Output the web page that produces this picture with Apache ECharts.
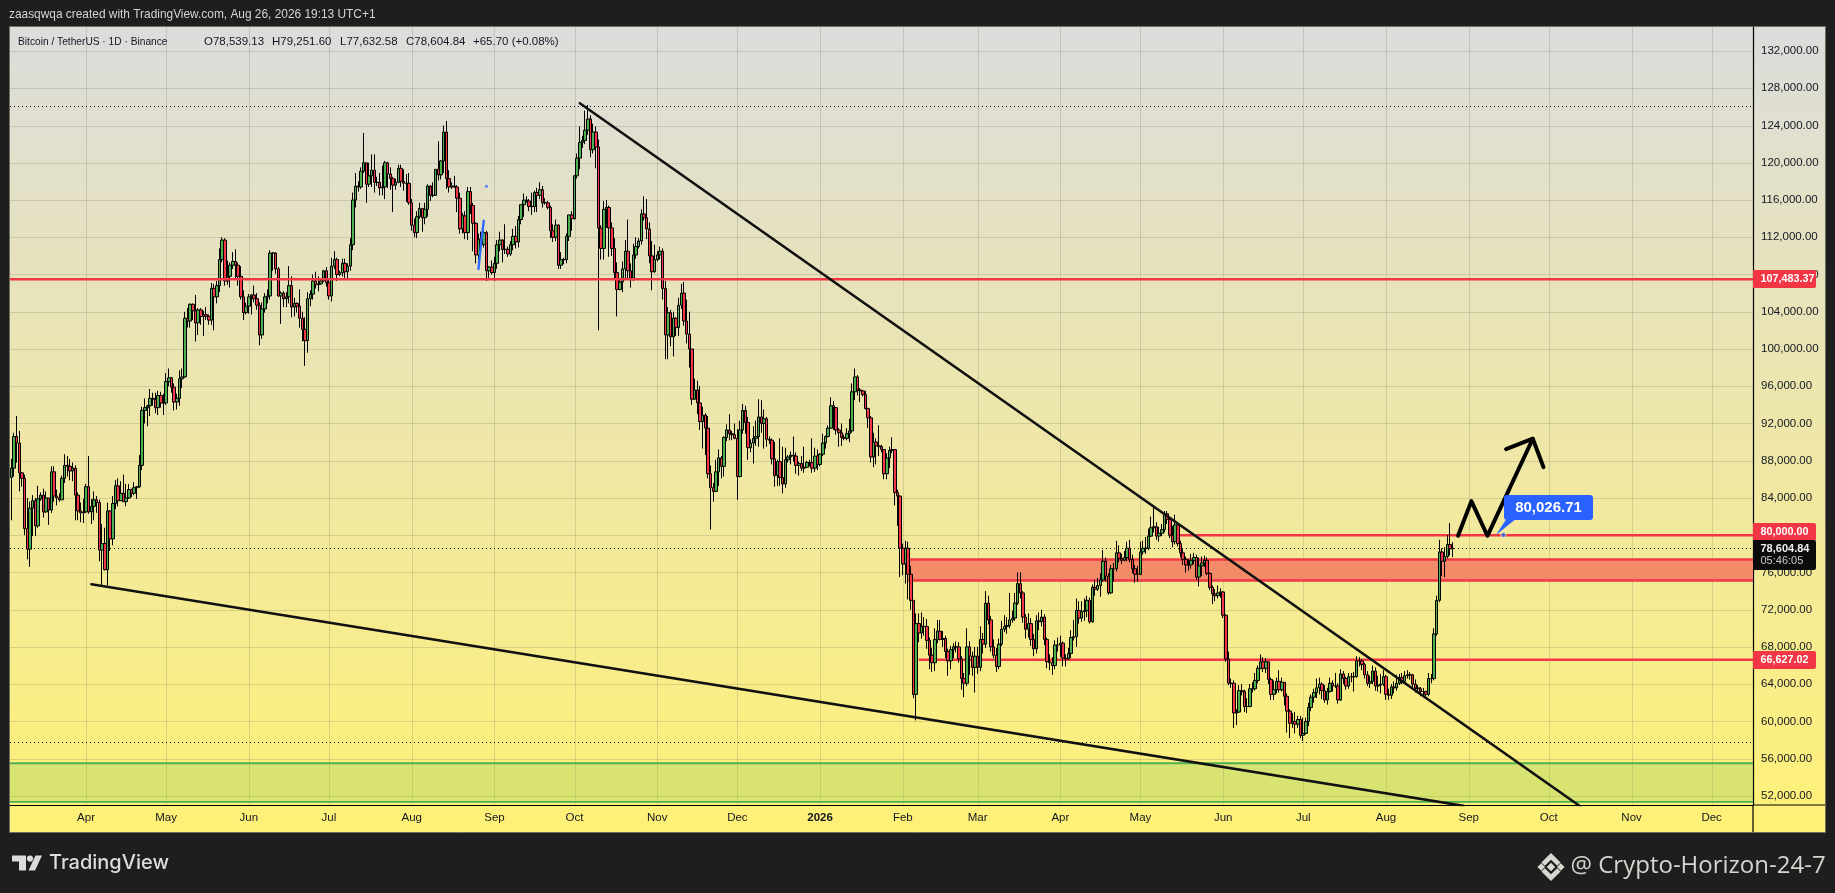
<!DOCTYPE html>
<html><head><meta charset="utf-8"><title>BTCUSDT</title>
<style>html,body{margin:0;padding:0;background:#1e1e1e}#c{width:1835px;height:893px}</style>
<script src="https://cdn.jsdelivr.net/npm/echarts@6/dist/echarts.min.js"></script></head>
<body><div id="c"></div>
<script>
// Daily candles: [close, high, low] in thousands of USD. Each open is the previous close.
const mar25=[[87.2,88.2,81.6],[90.6,91.0,86.3],[89.9,92.8,87.8],[86.7,91.2,84.7],[86.1,86.8,85.2],[80.7,86.5,80.0],[78.5,84.0,77.4],[82.9,83.6,76.6],[83.7,84.3,79.9],[81.0,84.0,79.9],[83.9,85.3,80.8],[84.3,84.6,83.7],[82.5,85.0,81.9],[84.0,84.7,82.4],[82.7,84.0,81.1],[86.8,87.4,82.4],[84.2,87.4,83.6],[84.0,84.9,83.2],[83.8,84.5,83.6],[86.1,86.4,83.8],[87.5,88.7,85.6],[87.4,88.5,86.3],[86.9,88.2,85.9],[87.2,87.8,85.8],[84.3,87.5,81.6],[82.6,84.6,81.6],[82.4,83.5,81.4],[82.5,83.9,81.3]];
const apr25=[[85.2,85.5,82.4],[82.5,88.5,82.3],[83.1,83.9,81.2],[83.8,84.7,81.6],[83.5,84.2,82.4],[78.4,83.8,77.2],[79.1,81.2,74.5],[76.3,80.8,76.2],[82.6,83.5,74.6],[79.6,82.7,78.3],[83.4,84.2,78.9],[85.3,85.9,82.8],[83.7,86.1,83.1],[84.5,85.8,83.7],[83.6,86.5,83.6],[84.0,85.5,83.1],[84.9,85.5,83.9],[84.5,85.0,84.1],[85.1,85.7,84.3],[85.2,85.3,83.9],[87.5,88.6,85.1],[93.4,93.8,87.0],[93.7,94.7,92.0],[93.9,94.0,91.7],[94.7,95.7,92.8],[94.6,95.3,93.9],[93.7,95.3,93.1],[95.0,95.5,92.9],[94.2,95.4,93.7],[94.2,95.2,92.9]];
const may25=[[96.5,97.4,94.0],[96.9,97.9,96.0],[95.9,97.0,95.3],[94.3,96.3,93.4],[94.7,95.2,93.5],[96.8,97.7,93.9],[97.0,97.9,95.8],[103.3,104.0,96.9],[103.0,104.4,102.3],[104.8,104.9,102.3],[104.1,104.9,103.1],[102.8,105.8,100.8],[104.2,104.4,101.5],[103.5,104.4,102.6],[103.7,104.1,101.4],[103.5,104.5,103.1],[103.1,103.7,102.6],[106.5,107.1,102.6],[105.6,107.0,102.0],[106.8,107.3,104.9],[109.6,110.8,106.1],[111.7,112.0,109.3],[107.3,111.9,106.8],[107.8,109.5,106.9],[109.0,109.3,106.6],[109.4,110.4,108.6],[109.0,110.7,107.6],[107.8,109.3,106.8],[105.6,108.9,105.3],[103.9,106.3,103.1],[104.6,105.0,103.7]];
const jun25=[[105.6,105.9,103.8],[105.8,105.9,103.7],[105.4,106.8,105.0],[104.7,106.0,104.2],[101.5,105.0,100.4],[104.3,105.0,101.1],[105.6,106.0,103.9],[105.7,106.4,104.9],[110.3,110.6,105.3],[110.3,110.4,108.4],[108.6,110.4,108.1],[105.7,108.8,105.6],[106.0,106.2,102.7],[105.4,106.2,104.5],[105.6,106.1,104.5],[106.8,108.9,104.9],[104.5,107.8,103.4],[104.9,105.5,103.5],[104.6,105.0,103.9],[103.3,106.4,102.3],[102.1,104.0,100.8],[100.9,103.4,98.2],[105.4,106.1,99.6],[105.9,106.3,104.6],[107.3,108.0,105.3],[106.9,108.3,106.5],[107.0,107.8,106.2],[107.3,107.6,106.9],[108.4,108.5,107.2],[107.1,108.8,106.7]];
const jul25=[[105.7,107.5,105.3],[108.9,109.8,105.1],[109.6,110.5,108.6],[108.0,109.8,107.3],[108.2,108.4,107.8],[109.2,109.7,107.8],[108.3,109.7,107.5],[108.9,109.2,107.5],[111.2,111.9,108.4],[116.0,116.8,110.6],[117.5,118.9,115.2],[117.4,118.0,116.9],[119.1,119.5,117.2],[120.0,123.2,118.9],[117.7,120.0,115.7],[118.6,120.0,117.4],[119.2,120.9,117.4],[117.9,120.9,116.8],[117.9,118.5,117.5],[117.3,118.9,116.5],[117.4,119.7,116.5],[120.0,120.2,116.1],[118.8,120.1,117.3],[118.3,119.5,117.1],[117.6,118.5,114.7],[117.9,118.3,117.1],[119.4,119.8,117.8],[118.0,119.8,117.4],[117.8,119.3,117.0],[117.8,118.8,115.8],[115.7,118.9,115.5]];
const aug25=[[113.3,116.1,112.7],[112.5,114.0,112.0],[114.2,114.8,111.9],[115.1,115.7,114.0],[114.1,115.1,112.6],[115.0,115.7,113.4],[117.5,117.7,114.2],[116.5,117.6,115.9],[116.5,117.9,116.3],[119.3,119.3,116.5],[118.7,122.3,118.1],[120.2,120.3,118.2],[123.3,124.0,118.9],[118.3,124.5,117.2],[117.4,119.2,116.8],[117.5,117.9,117.2],[117.4,118.6,117.3],[116.2,117.6,114.7],[112.9,116.8,112.4],[114.3,114.6,112.4],[112.5,114.8,111.8],[116.9,117.4,111.7],[115.4,117.4,114.5],[113.5,115.7,110.5],[110.1,113.6,109.2],[111.8,112.4,108.7],[111.2,112.6,110.3],[112.5,113.5,110.9],[108.4,112.7,107.3],[108.8,108.9,107.4],[108.2,109.5,108.0]];
const sep25=[[109.2,109.9,107.3],[111.2,111.7,108.6],[111.7,112.6,110.5],[110.7,111.8,109.3],[110.7,113.4,110.2],[110.2,111.0,109.9],[111.2,111.6,110.0],[112.1,112.9,110.6],[111.5,113.2,110.8],[113.9,114.3,110.9],[115.5,115.5,113.4],[116.0,116.7,114.2],[115.9,116.4,115.7],[115.3,116.1,114.8],[115.3,116.8,114.4],[116.8,117.0,114.7],[116.5,117.3,114.7],[117.1,117.9,116.1],[115.7,117.5,115.2],[115.7,116.2,115.5],[115.2,115.9,115.0],[112.7,115.4,111.9],[112.0,113.4,111.5],[113.3,113.9,111.6],[109.0,113.4,108.6],[109.6,110.4,108.6],[109.6,109.8,109.1],[112.1,112.4,109.2],[114.4,114.4,111.6],[114.0,114.8,112.7]];
const oct25=[[118.6,118.7,113.9],[120.5,121.0,118.3],[122.2,123.9,119.3],[122.4,122.9,121.6],[123.5,125.6,122.0],[124.7,126.2,123.0],[121.4,125.1,120.6],[123.3,124.2,121.0],[121.7,123.9,119.4],[113.0,122.5,102.0],[110.8,113.3,109.6],[115.0,115.9,109.6],[115.2,116.0,113.0],[113.0,115.4,109.9],[110.8,113.6,110.0],[108.2,111.9,107.4],[106.4,109.3,103.5],[107.2,107.6,106.3],[108.6,109.4,106.1],[110.5,111.7,107.4],[108.4,113.9,107.4],[107.6,109.2,106.6],[110.1,111.3,107.3],[111.0,112.0,109.7],[111.6,111.9,110.8],[114.5,115.0,111.2],[114.1,116.4,113.8],[112.9,116.1,111.8],[110.0,113.6,109.2],[108.3,111.6,106.3],[109.6,111.2,108.2]];
const nov25=[[110.1,110.5,109.4],[110.5,111.0,109.6],[106.5,110.8,105.3],[101.5,107.3,98.9],[103.9,104.5,98.9],[101.3,104.2,100.3],[103.3,104.0,99.2],[102.3,103.4,101.4],[104.7,105.5,101.4],[106.0,107.0,104.3],[103.0,107.2,102.5],[101.6,105.3,100.6],[100.0,104.0,98.0],[94.6,99.8,94.0],[95.6,96.8,94.6],[94.2,96.6,93.0],[92.2,96.0,91.3],[92.9,93.8,89.3],[91.5,93.1,88.6],[86.6,92.8,86.1],[85.1,87.5,80.6],[84.7,85.6,83.6],[86.8,88.1,84.7],[88.3,89.2,85.3],[87.4,88.5,86.1],[90.5,90.6,86.3],[91.3,91.9,90.1],[90.9,93.0,90.2],[90.8,91.2,90.2],[90.4,92.0,90.3]];
const dec25=[[86.3,91.4,83.8],[91.3,92.3,86.2],[93.4,94.1,90.9],[92.1,93.9,90.9],[89.4,92.7,88.1],[89.9,90.3,88.9],[90.4,91.7,87.7],[90.6,92.3,89.6],[92.7,94.6,89.5],[92.0,94.5,91.0],[92.5,93.5,89.3],[90.3,92.7,89.5],[90.2,90.6,89.8],[88.2,90.4,87.6],[86.4,90.0,85.2],[87.9,88.1,85.3],[86.2,90.4,85.3],[85.5,89.5,84.5],[88.1,89.4,85.1],[88.4,88.6,87.8],[88.6,89.0,87.6],[88.5,90.6,87.9],[87.5,88.9,86.6],[87.7,87.9,86.4],[87.2,88.5,86.9],[87.3,89.5,86.7],[87.8,88.0,87.2],[87.8,88.1,87.4],[87.2,90.4,86.7],[88.5,89.4,86.8],[87.6,89.2,87.0]];
const jan26=[[88.7,88.8,87.4],[89.9,90.9,88.5],[90.6,90.7,89.3],[91.5,91.8,90.5],[93.9,94.8,91.4],[93.7,94.4,91.3],[91.3,93.6,90.8],[91.0,91.5,89.5],[90.5,92.0,89.6],[90.4,90.8,90.2],[90.9,91.5,90.2],[91.2,92.5,90.0],[95.4,96.3,91.0],[97.0,97.9,94.5],[95.6,97.2,95.0],[95.5,95.8,94.3],[95.1,95.6,94.9],[93.6,95.5,93.5],[92.6,93.7,91.5],[88.4,92.8,87.8],[90.0,91.0,87.3],[89.6,90.4,87.6],[89.5,91.8,88.5],[89.2,89.7,88.9],[86.6,89.2,86.0],[88.3,88.8,86.0],[89.1,89.5,87.2],[89.2,90.5,88.8],[84.6,89.2,83.2],[84.2,84.9,81.0],[78.6,84.3,75.5]];
const feb26=[[76.9,79.1,75.7],[78.6,79.4,74.8],[75.8,79.3,73.1],[73.0,76.7,72.0],[62.9,73.0,62.5],[70.5,71.6,60.1],[69.5,71.6,68.5],[70.2,71.7,68.9],[70.2,71.2,69.2],[68.7,71.0,67.8],[67.1,69.0,65.6],[66.3,67.9,65.3],[68.8,70.0,65.4],[69.7,70.9,68.4],[68.8,70.9,68.7],[68.9,69.7,68.0],[67.5,69.2,66.8],[66.5,67.8,64.9],[67.7,68.1,65.6],[68.0,68.4,66.8],[68.0,68.6,67.4],[66.7,68.5,66.3],[64.6,67.0,63.4],[64.1,65.2,62.6],[68.0,70.0,63.8],[67.0,68.6,65.0],[65.8,67.5,64.9],[67.0,68.0,63.1]];
const mar26=[[65.8,68.0,65.1],[68.8,70.2,65.4],[68.3,69.5,67.3],[72.7,74.0,67.9],[70.9,73.5,70.4],[68.0,71.3,67.5],[67.1,68.8,66.8],[65.9,67.9,65.3],[68.3,68.9,65.6],[69.9,70.8,68.1],[70.2,71.4,69.6],[70.3,71.2,69.4],[70.9,73.8,70.0],[71.1,71.9,70.6],[72.7,73.8,70.8],[74.8,76.0,72.5],[73.8,76.0,73.2],[71.2,74.0,70.6],[69.9,71.5,68.9],[70.5,71.6,69.0],[68.8,71.1,68.1],[67.8,69.4,67.0],[70.8,71.4,67.3],[70.7,71.7,69.8],[71.2,72.0,70.2],[68.8,71.5,68.2],[66.4,69.0,65.7],[66.3,67.2,65.5],[66.0,66.9,65.0],[68.2,68.7,65.6],[68.2,69.0,67.5]];
const apr26=[[68.4,69.2,66.9],[66.8,68.6,65.9],[66.7,67.2,65.9],[67.3,67.9,66.6],[69.0,69.8,66.8],[69.1,70.9,68.7],[71.9,73.2,68.0],[71.1,72.9,70.5],[71.8,72.9,70.7],[71.9,73.2,70.8],[73.0,73.5,71.2],[70.7,73.3,70.5],[74.4,74.7,70.6],[74.2,75.2,73.5],[74.6,75.4,74.0],[75.2,75.9,73.4],[77.2,78.4,75.0],[75.6,77.6,75.0],[73.8,75.9,73.6],[76.4,76.8,73.7],[76.4,77.0,75.0],[78.1,79.4,76.1],[77.5,78.9,77.1],[77.3,78.0,76.9],[77.6,78.3,77.2],[78.6,79.3,77.2],[77.4,79.5,77.1],[76.4,77.9,75.9],[75.8,76.8,74.9],[75.8,76.7,75.0]];
const may26=[[78.2,79.3,75.7],[78.6,79.4,77.9],[78.6,79.8,78.0],[79.9,80.7,78.4],[80.8,82.0,79.8],[80.9,83.0,80.3],[79.9,81.4,79.5],[80.2,80.9,79.3],[80.6,81.2,79.9],[82.3,82.6,80.3],[81.7,82.6,81.2],[80.0,81.9,79.7],[79.3,81.0,78.7],[81.1,82.2,79.0],[79.1,81.4,78.8],[78.1,79.4,77.6],[77.4,78.5,76.8],[76.8,77.7,76.0],[76.8,77.4,76.2],[77.3,78.0,76.4],[77.6,78.1,76.9],[75.5,77.9,75.2],[76.7,77.6,74.5],[77.0,77.7,75.6],[77.3,77.8,76.6],[75.9,77.6,75.7],[74.4,76.0,74.1],[73.7,74.6,72.6],[73.5,74.2,72.9],[73.8,74.6,73.2],[73.9,74.3,73.3]];
const jun26=[[71.4,74.0,71.1],[66.7,71.5,66.4],[64.1,67.5,63.9],[64.1,64.6,63.6],[60.9,64.4,59.3],[61.0,61.3,59.6],[63.3,63.9,60.9],[63.2,64.0,62.8],[61.6,63.4,61.0],[61.6,62.5,60.9],[63.5,64.0,61.5],[63.5,64.2,63.1],[64.4,65.2,63.3],[65.7,66.0,64.1],[66.4,67.2,65.6],[65.7,66.9,65.3],[66.4,66.8,65.2],[64.5,66.2,64.0],[62.9,64.7,62.3],[63.4,64.4,62.3],[64.3,64.7,63.0],[63.4,65.5,63.1],[64.2,64.7,63.2],[62.7,64.2,61.7],[61.1,63.0,58.8],[59.8,61.3,58.2],[60.0,60.9,59.3],[59.7,61.0,58.7],[60.2,60.6,59.3],[58.5,60.6,58.2]];
const jul26=[[58.7,60.4,57.9],[60.0,60.4,58.6],[61.5,62.0,59.5],[62.6,62.9,61.1],[63.1,63.5,62.0],[63.6,64.6,62.5],[64.0,64.7,62.9],[63.3,64.2,62.4],[62.3,63.9,62.0],[63.2,63.6,61.8],[64.1,64.7,63.1],[63.8,64.4,63.2],[63.8,65.2,63.6],[62.3,64.1,61.9],[65.1,65.6,62.2],[64.6,65.4,64.0],[63.8,64.8,63.4],[64.8,65.2,63.5],[64.8,65.2,64.2],[64.8,65.3,63.2],[66.5,67.0,64.7],[66.5,66.9,65.9],[66.1,66.7,65.5],[65.0,66.3,64.6],[64.1,65.4,63.8],[64.3,64.9,63.6],[65.4,66.0,64.0],[63.8,65.8,63.3],[63.9,64.9,63.2],[64.0,65.1,63.0],[64.8,65.5,63.8]];
const aug26=[[62.9,65.0,62.3],[62.8,63.5,62.3],[63.7,64.0,62.4],[63.6,64.3,63.0],[64.1,65.0,63.3],[64.7,65.1,63.9],[64.3,65.2,64.0],[64.9,65.4,64.0],[65.0,65.5,64.6],[65.0,65.3,64.5],[64.0,65.1,63.6],[63.6,64.5,63.1],[63.5,63.9,63.0],[63.2,63.7,62.7],[63.2,63.6,62.6],[62.9,63.3,62.7],[64.6,65.2,62.7],[64.6,65.1,64.1],[69.4,70.0,64.4],[73.0,73.5,69.2],[78.2,79.5,72.8],[77.2,78.6,75.6],[77.7,78.7,75.5],[79.0,80.0,77.5],[78.539,81.3,77.8],[78.605,79.252,77.633]];
const firstDate='2025-03-04', dayCount=653;
const firstOpen=86.2;
const monthTicks=[['2025-04-01','Apr'],['2025-05-01','May'],['2025-06-01','Jun'],['2025-07-01','Jul'],['2025-08-01','Aug'],['2025-09-01','Sep'],['2025-10-01','Oct'],['2025-11-01','Nov'],['2025-12-01','Dec'],['2026-01-01','2026'],['2026-02-01','Feb'],['2026-03-01','Mar'],['2026-04-01','Apr'],['2026-05-01','May'],['2026-06-01','Jun'],['2026-07-01','Jul'],['2026-08-01','Aug'],['2026-09-01','Sep'],['2026-10-01','Oct'],['2026-11-01','Nov'],['2026-12-01','Dec']];
const priceTicks=[52000,56000,60000,64000,68000,72000,76000,80000,84000,88000,92000,96000,100000,104000,108000,112000,116000,120000,124000,128000,132000];
const axisMin=51018, axisMax=134584;
// Drawn levels: [first day index, last day index, price]
const levelsUnder=[[340,653,66627.02],[434,653,80000],[336,653,77390],[336,653,75130]];
const levelsOver=[[0,653,107483.37]];
const dottedPrices=[126150,78604.84,57750];
const redZone=[336,653,77390,75130];
const greenZone=[0,653,55500,51350];
const greenLines=[55500,51350];
const upperTrend=[[213,126400],[588,50830]];
const lowerTrend=[[30,74730],[544,50930]];
const zigzag=[[542,79935],[547,83660],[553,79935],[570,90360]];
const arrowHead=[[560,89250],[570,90360],[574,87310]];
const blueStroke=[[175,108590],[176,111380],[177,113780]];
const blueDot=[[178,117470]];
const calloutDot=[[559,80026.71]];

const months=[mar25,apr25,may25,jun25,jul25,aug25,sep25,oct25,nov25,dec25,jan26,feb26,mar26,apr26,may26,jun26,jul26,aug26];
const daily=months.flat();
const categories=[];
{const s=Date.parse(firstDate+'T00:00:00Z');for(let i=0;i<dayCount;i++)categories.push(new Date(s+i*864e5).toISOString().slice(0,10));}
const candles=daily.map((d,i)=>{const o=i?daily[i-1][0]:firstOpen,c=d[0];return [o,c,Math.min(d[2],o,c),Math.max(d[1],o,c)].map(v=>v*1000);});
const tickIndex=monthTicks.map(t=>categories.indexOf(t[0]));
const tickName={};monthTicks.forEach(t=>tickName[t[0]]=t[1]);
const FONT='"Liberation Sans",Arial,sans-serif', INK='#131722', RED='#f23645', GREEN='#4caf50';
const chart=echarts.init(document.getElementById('c'),null,{renderer:'canvas'});
const noAnim={animation:false,silent:true};
function snap(v){return Math.round(v)+0.5;}
function gridItems(params,api){
  const cs=params.coordSys,items=[],st={stroke:'rgba(95,95,80,0.2)',lineWidth:1};
  tickIndex.forEach(i=>{const x=snap(api.coord([i,axisMin])[0]);items.push({type:'line',shape:{x1:x,y1:cs.y,x2:x,y2:cs.y+cs.height},style:st});});
  priceTicks.forEach(p=>{const y=snap(api.coord([0,p])[1]);items.push({type:'line',shape:{x1:cs.x,y1:y,x2:cs.x+cs.width,y2:y},style:st});});
  return {type:'group',children:items};
}
function bandItem(api,cs,z,fill){const a=api.coord([z[0],z[2]]),b=api.coord([z[1],z[3]]);const x2=Math.min(b[0],cs.x+cs.width),x1=Math.max(z[0]===0?cs.x:a[0],cs.x);
  return {type:'rect',shape:{x:x1,y:a[1],width:x2-x1,height:b[1]-a[1]},style:{fill:fill}};}
function levelItems(rows,w){return (params,api)=>{const cs=params.coordSys;return {type:'group',children:rows.map(r=>{
  const y=api.coord([r[0],r[2]])[1],x1=r[0]===0?cs.x:api.coord([r[0],r[2]])[0],x2=cs.x+cs.width;
  return {type:'line',shape:{x1:x1,y1:y,x2:x2,y2:y},style:{stroke:RED,lineWidth:w}};})};};}
function onePass(name,z,fn){return Object.assign({type:'custom',name:name,z:z,coordinateSystem:'cartesian2d',data:[[0,axisMin]],renderItem:fn,clip:true},noAnim);}
function poly(name,data,color,w,z,extra){return Object.assign({type:'line',name:name,z:z,data:data,symbol:'none',clip:true,lineStyle:{color:color,width:w,cap:'round',join:'round'}},noAnim,extra||{});}

function T(x,y,text,o){return Object.assign({type:'text',x:x,y:y,z:50,style:Object.assign({text:text,fill:INK,font:'11.5px '+FONT,textVerticalAlign:'middle'},o||{})});}
function tag(y,text){return [{type:'rect',z:49,shape:{x:1753,y:y-9,width:63,height:18,r:[0,2,2,0]},style:{fill:RED}},T(1760.5,y,text,{fill:'#fff',font:'bold 10.8px '+FONT})];}
const LOGO='#dcdcdc';
const graphics=[
 {type:'rect',z:-10,shape:{x:9.5,y:26.5,width:1816,height:806},style:{stroke:'#6f6f60',lineWidth:1,fill:new echarts.graphic.LinearGradient(0,0,0,1,[{offset:0,color:'#dcdcdc'},{offset:1,color:'#fff176'}])}},
 {type:'line',z:40,shape:{x1:1753,y1:805,x2:1753,y2:832},style:{stroke:'#000',lineWidth:1.2}},
 {type:'line',z:40,shape:{x1:1753,y1:805,x2:1825,y2:805},style:{stroke:'#000',lineWidth:1.2}},
 T(9,15,'zaasqwqa created with TradingView.com, Aug 26, 2026 19:13 UTC+1',{fill:'#d4d4d4',font:'11.9px '+FONT}),
 T(18,42,'Bitcoin / TetherUS · 1D · Binance',{font:'10.2px '+FONT}),T(204,42,'O78,539.13'),T(272,42,'H79,251.60'),T(340,42,'L77,632.58'),T(406,42,'C78,604.84'),T(473,42,'+65.70 (+0.08%)'),
 ...tag(279,'107,483.37'),...tag(532,'80,000.00'),...tag(660,'66,627.02'),
 {type:'rect',z:49,shape:{x:1753,y:540,width:63,height:30,r:[0,2,2,0]},style:{fill:'#0b0b0b'}},
 T(1760.5,548.5,'78,604.84',{fill:'#f0f0f0',font:'bold 11px '+FONT}),T(1760.5,561,'05:46:05',{fill:'#c8c8c8',font:'11px '+FONT}),
 {type:'polygon',z:48,shape:{points:[[1507,518],[1517,518],[1496,535]]},style:{fill:'#2962ff'}},
 {type:'rect',z:48,shape:{x:1504,y:495,width:89,height:25,r:3},style:{fill:'#2962ff'}},
 T(1548.5,507.5,'80,026.71',{fill:'#fff',font:'bold 15px '+FONT,textAlign:'center'}),
 {type:'polygon',z:50,shape:{points:[[12,855.5],[26,855.5],[26,870.5],[19,870.5],[19,861.5],[12,861.5]]},style:{fill:LOGO}},
 {type:'circle',z:50,shape:{cx:30,cy:858.6,r:3.1},style:{fill:LOGO}},
 {type:'polygon',z:50,shape:{points:[[35.5,855.5],[42,855.5],[35,870.5],[28.5,870.5]]},style:{fill:LOGO}},
 T(49,863,'TradingView',{fill:LOGO,font:'500 20px Inter,'+FONT}),
 {type:'polygon',z:50,shape:{points:[[1551,862.8],[1555.2,867],[1551,871.2],[1546.8,867]]},style:{fill:'#d8d8d0'}},
 {type:'polygon',z:50,shape:{points:[[1541.2,863.2],[1545,867],[1541.2,870.8],[1537.4,867]]},style:{fill:'#d8d8d0'}},
 {type:'polygon',z:50,shape:{points:[[1560.8,863.2],[1564.6,867],[1560.8,870.8],[1557,867]]},style:{fill:'#d8d8d0'}},
 {type:'polygon',z:50,shape:{points:[[1551,853],[1560.6,862.4],[1557.2,865.8],[1551,859.8],[1544.8,865.8],[1541.4,862.4]]},style:{fill:'#d8d8d0'}},
 {type:'polygon',z:50,shape:{points:[[1551,881],[1560.6,871.6],[1557.2,868.2],[1551,874.2],[1544.8,868.2],[1541.4,871.6]]},style:{fill:'#d8d8d0'}},
 T(1570.5,866,'@ Crypto-Horizon-24-7',{fill:'#d5d5cf',font:'24px "Open Sans",'+FONT})
];
chart.setOption({
 animation:false,backgroundColor:'#1e1e1e',
 grid:{left:10,right:82,top:27,bottom:88,containLabel:false},
 tooltip:{show:false},legend:{show:false},
 xAxis:{type:'category',data:categories,boundaryGap:true,axisTick:{show:false},splitLine:{show:false},
  axisLine:{show:true,onZero:false,lineStyle:{color:'#000',width:1.2}},
  axisLabel:{margin:7,fontFamily:FONT,fontSize:11.5,color:INK,interval:(i,v)=>tickName[v]!==undefined,hideOverlap:false,
   formatter:v=>tickName[v]==='2026'?'{b|2026}':(tickName[v]||''),rich:{b:{fontWeight:'bold',fontFamily:FONT,fontSize:11.5,color:INK}}}},
 yAxis:{type:'value',position:'right',min:axisMin,max:axisMax,scale:true,splitLine:{show:false},axisTick:{show:false},
  axisLine:{show:true,onZero:false,lineStyle:{color:'#000',width:1.2}},
  axisLabel:{customValues:priceTicks,margin:8,fontFamily:FONT,fontSize:11.5,color:INK,formatter:v=>Number(v).toLocaleString('en-US',{minimumFractionDigits:2,maximumFractionDigits:2})}},
 graphic:{elements:graphics},
 series:[
  onePass('Grid',0,gridItems),
  onePass('Green zone',1,(p,api)=>{const cs=p.coordSys;return {type:'group',children:[bandItem(api,cs,greenZone,'rgba(134,200,90,0.30)')].concat(greenLines.map(v=>{const y=api.coord([0,v])[1];return {type:'line',shape:{x1:cs.x,y1:y,x2:cs.x+cs.width,y2:y},style:{stroke:GREEN,lineWidth:1.8}};}))};}),
  onePass('Red zone',1,(p,api)=>bandItem(api,p.coordSys,redZone,'#f48b68')),
  onePass('Levels',1,levelItems(levelsUnder,2.5)),
  onePass('Dotted',1,(p,api)=>{const cs=p.coordSys;return {type:'group',children:dottedPrices.map(v=>{const y=snap(api.coord([0,v])[1]);return {type:'line',shape:{x1:cs.x,y1:y,x2:cs.x+cs.width,y2:y},style:{stroke:'#111',lineWidth:1,lineDash:[1,3]}};})};}),
  Object.assign({type:'candlestick',name:'BTCUSDT',z:2,barWidth:3,data:candles,clip:true,itemStyle:{color:'#4caf50',color0:'#f23645',borderColor:'#000',borderColor0:'#000',borderColorDoji:'#000',borderWidth:1}},noAnim),
  onePass('Resistance',3,levelItems(levelsOver,2.5)),
  poly('Upper trend',upperTrend,'#111',2.6,4),
  poly('Lower trend',lowerTrend,'#111',2.6,4),
  poly('Zigzag',zigzag,'#000',4,5),
  poly('Arrow head',arrowHead,'#000',4,5),
  poly('Blue stroke',blueStroke,'#2f6bff',2.4,5),
  Object.assign({type:'scatter',name:'Blue dot',z:5,data:blueDot,symbolSize:3,itemStyle:{color:'#2f6bff'}},noAnim),
  Object.assign({type:'scatter',name:'Callout point',z:60,data:calloutDot,symbolSize:5,itemStyle:{color:'#2962ff',borderColor:'#ffe9a0',borderWidth:1}},noAnim)
 ]
});
</script></body></html>
